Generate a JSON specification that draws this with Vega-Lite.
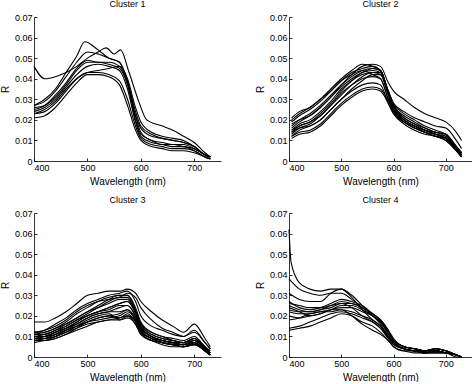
{
"$schema":"https://vega.github.io/schema/vega-lite/v6.json",
"background":"white",
"padding":{"left":0,"top":0,"right":0,"bottom":0},
"config":{
"view":{"stroke":null},
"font":"Liberation Sans",
"axis":{"grid":false,"domainColor":"black","tickColor":"black","labelColor":"black","titleColor":"black","labelFontSize":9,"titleFontSize":10,"titleFontWeight":"normal","tickSize":-3,"domainWidth":0.8,"tickWidth":0.8,"labelPadding":5},
"title":{"fontSize":9,"fontWeight":"normal","color":"black","offset":0},
"line":{"color":"black","strokeWidth":1.1,"interpolate":"monotone"}
},
"data":{"values":[
{"c":1,"s":1,"w":400,"r":0.046},{"c":1,"s":1,"w":420,"r":0.040},{"c":1,"s":1,"w":440,"r":0.041},{"c":1,"s":1,"w":460,"r":0.043},{"c":1,"s":1,"w":480,"r":0.046},{"c":1,"s":1,"w":500,"r":0.050},{"c":1,"s":1,"w":520,"r":0.053},{"c":1,"s":1,"w":535,"r":0.055},{"c":1,"s":1,"w":550,"r":0.052},{"c":1,"s":1,"w":562,"r":0.054},{"c":1,"s":1,"w":578,"r":0.043},{"c":1,"s":1,"w":596,"r":0.029},{"c":1,"s":1,"w":611,"r":0.020},{"c":1,"s":1,"w":640,"r":0.017},{"c":1,"s":1,"w":660,"r":0.015},{"c":1,"s":1,"w":680,"r":0.012},{"c":1,"s":1,"w":700,"r":0.009},{"c":1,"s":1,"w":720,"r":0.004},{"c":1,"s":1,"w":730,"r":0.002},
{"c":1,"s":2,"w":400,"r":0.027},{"c":1,"s":2,"w":420,"r":0.030},{"c":1,"s":2,"w":440,"r":0.035},{"c":1,"s":2,"w":460,"r":0.043},{"c":1,"s":2,"w":480,"r":0.051},{"c":1,"s":2,"w":495,"r":0.058},{"c":1,"s":2,"w":520,"r":0.054},{"c":1,"s":2,"w":540,"r":0.050},{"c":1,"s":2,"w":560,"r":0.048},{"c":1,"s":2,"w":575,"r":0.038},{"c":1,"s":2,"w":590,"r":0.022},{"c":1,"s":2,"w":600,"r":0.016},{"c":1,"s":2,"w":620,"r":0.012},{"c":1,"s":2,"w":640,"r":0.011},{"c":1,"s":2,"w":660,"r":0.010},{"c":1,"s":2,"w":680,"r":0.009},{"c":1,"s":2,"w":700,"r":0.007},{"c":1,"s":2,"w":720,"r":0.003},{"c":1,"s":2,"w":730,"r":0.002},
{"c":1,"s":3,"w":400,"r":0.027},{"c":1,"s":3,"w":420,"r":0.029},{"c":1,"s":3,"w":440,"r":0.034},{"c":1,"s":3,"w":460,"r":0.041},{"c":1,"s":3,"w":480,"r":0.048},{"c":1,"s":3,"w":500,"r":0.053},{"c":1,"s":3,"w":520,"r":0.052},{"c":1,"s":3,"w":540,"r":0.050},{"c":1,"s":3,"w":560,"r":0.048},{"c":1,"s":3,"w":575,"r":0.039},{"c":1,"s":3,"w":590,"r":0.024},{"c":1,"s":3,"w":600,"r":0.017},{"c":1,"s":3,"w":620,"r":0.013},{"c":1,"s":3,"w":640,"r":0.011},{"c":1,"s":3,"w":660,"r":0.010},{"c":1,"s":3,"w":680,"r":0.009},{"c":1,"s":3,"w":700,"r":0.007},{"c":1,"s":3,"w":720,"r":0.003},{"c":1,"s":3,"w":730,"r":0.002},
{"c":1,"s":4,"w":400,"r":0.025},{"c":1,"s":4,"w":420,"r":0.027},{"c":1,"s":4,"w":440,"r":0.032},{"c":1,"s":4,"w":460,"r":0.038},{"c":1,"s":4,"w":480,"r":0.045},{"c":1,"s":4,"w":500,"r":0.049},{"c":1,"s":4,"w":520,"r":0.048},{"c":1,"s":4,"w":540,"r":0.048},{"c":1,"s":4,"w":560,"r":0.046},{"c":1,"s":4,"w":575,"r":0.038},{"c":1,"s":4,"w":590,"r":0.022},{"c":1,"s":4,"w":600,"r":0.014},{"c":1,"s":4,"w":620,"r":0.010},{"c":1,"s":4,"w":640,"r":0.009},{"c":1,"s":4,"w":660,"r":0.008},{"c":1,"s":4,"w":680,"r":0.008},{"c":1,"s":4,"w":700,"r":0.006},{"c":1,"s":4,"w":720,"r":0.003},{"c":1,"s":4,"w":730,"r":0.002},
{"c":1,"s":5,"w":400,"r":0.026},{"c":1,"s":5,"w":420,"r":0.027},{"c":1,"s":5,"w":440,"r":0.031},{"c":1,"s":5,"w":460,"r":0.037},{"c":1,"s":5,"w":480,"r":0.044},{"c":1,"s":5,"w":500,"r":0.048},{"c":1,"s":5,"w":520,"r":0.048},{"c":1,"s":5,"w":540,"r":0.047},{"c":1,"s":5,"w":560,"r":0.045},{"c":1,"s":5,"w":575,"r":0.037},{"c":1,"s":5,"w":590,"r":0.020},{"c":1,"s":5,"w":600,"r":0.013},{"c":1,"s":5,"w":620,"r":0.010},{"c":1,"s":5,"w":640,"r":0.008},{"c":1,"s":5,"w":660,"r":0.008},{"c":1,"s":5,"w":680,"r":0.007},{"c":1,"s":5,"w":700,"r":0.006},{"c":1,"s":5,"w":720,"r":0.003},{"c":1,"s":5,"w":730,"r":0.001},
{"c":1,"s":6,"w":400,"r":0.024},{"c":1,"s":6,"w":420,"r":0.026},{"c":1,"s":6,"w":440,"r":0.030},{"c":1,"s":6,"w":460,"r":0.036},{"c":1,"s":6,"w":480,"r":0.042},{"c":1,"s":6,"w":500,"r":0.046},{"c":1,"s":6,"w":520,"r":0.047},{"c":1,"s":6,"w":540,"r":0.046},{"c":1,"s":6,"w":560,"r":0.044},{"c":1,"s":6,"w":575,"r":0.035},{"c":1,"s":6,"w":590,"r":0.019},{"c":1,"s":6,"w":600,"r":0.012},{"c":1,"s":6,"w":620,"r":0.009},{"c":1,"s":6,"w":640,"r":0.008},{"c":1,"s":6,"w":660,"r":0.007},{"c":1,"s":6,"w":680,"r":0.007},{"c":1,"s":6,"w":700,"r":0.005},{"c":1,"s":6,"w":720,"r":0.002},{"c":1,"s":6,"w":730,"r":0.001},
{"c":1,"s":7,"w":400,"r":0.023},{"c":1,"s":7,"w":420,"r":0.024},{"c":1,"s":7,"w":440,"r":0.028},{"c":1,"s":7,"w":460,"r":0.034},{"c":1,"s":7,"w":480,"r":0.040},{"c":1,"s":7,"w":500,"r":0.043},{"c":1,"s":7,"w":520,"r":0.043},{"c":1,"s":7,"w":540,"r":0.042},{"c":1,"s":7,"w":560,"r":0.039},{"c":1,"s":7,"w":575,"r":0.030},{"c":1,"s":7,"w":590,"r":0.017},{"c":1,"s":7,"w":600,"r":0.011},{"c":1,"s":7,"w":620,"r":0.008},{"c":1,"s":7,"w":640,"r":0.007},{"c":1,"s":7,"w":660,"r":0.006},{"c":1,"s":7,"w":680,"r":0.006},{"c":1,"s":7,"w":700,"r":0.005},{"c":1,"s":7,"w":720,"r":0.002},{"c":1,"s":7,"w":730,"r":0.001},
{"c":1,"s":8,"w":400,"r":0.021},{"c":1,"s":8,"w":420,"r":0.022},{"c":1,"s":8,"w":440,"r":0.026},{"c":1,"s":8,"w":460,"r":0.032},{"c":1,"s":8,"w":480,"r":0.038},{"c":1,"s":8,"w":500,"r":0.042},{"c":1,"s":8,"w":520,"r":0.042},{"c":1,"s":8,"w":540,"r":0.041},{"c":1,"s":8,"w":560,"r":0.037},{"c":1,"s":8,"w":575,"r":0.027},{"c":1,"s":8,"w":590,"r":0.015},{"c":1,"s":8,"w":600,"r":0.010},{"c":1,"s":8,"w":620,"r":0.007},{"c":1,"s":8,"w":640,"r":0.006},{"c":1,"s":8,"w":660,"r":0.005},{"c":1,"s":8,"w":680,"r":0.005},{"c":1,"s":8,"w":700,"r":0.004},{"c":1,"s":8,"w":720,"r":0.002},{"c":1,"s":8,"w":730,"r":0.001},
{"c":1,"s":9,"w":400,"r":0.023},{"c":1,"s":9,"w":420,"r":0.025},{"c":1,"s":9,"w":440,"r":0.029},{"c":1,"s":9,"w":460,"r":0.035},{"c":1,"s":9,"w":480,"r":0.040},{"c":1,"s":9,"w":500,"r":0.043},{"c":1,"s":9,"w":520,"r":0.044},{"c":1,"s":9,"w":540,"r":0.045},{"c":1,"s":9,"w":560,"r":0.046},{"c":1,"s":9,"w":575,"r":0.040},{"c":1,"s":9,"w":590,"r":0.026},{"c":1,"s":9,"w":600,"r":0.019},{"c":1,"s":9,"w":620,"r":0.014},{"c":1,"s":9,"w":640,"r":0.012},{"c":1,"s":9,"w":660,"r":0.011},{"c":1,"s":9,"w":680,"r":0.010},{"c":1,"s":9,"w":700,"r":0.007},{"c":1,"s":9,"w":720,"r":0.003},{"c":1,"s":9,"w":730,"r":0.002},

{"c":2,"s":1,"w":405,"r":0.018},{"c":2,"s":1,"w":420,"r":0.020},{"c":2,"s":1,"w":440,"r":0.022},{"c":2,"s":1,"w":460,"r":0.026},{"c":2,"s":1,"w":480,"r":0.031},{"c":2,"s":1,"w":500,"r":0.037},{"c":2,"s":1,"w":520,"r":0.042},{"c":2,"s":1,"w":540,"r":0.046},{"c":2,"s":1,"w":560,"r":0.047},{"c":2,"s":1,"w":575,"r":0.046},{"c":2,"s":1,"w":590,"r":0.038},{"c":2,"s":1,"w":600,"r":0.034},{"c":2,"s":1,"w":620,"r":0.030},{"c":2,"s":1,"w":640,"r":0.026},{"c":2,"s":1,"w":660,"r":0.023},{"c":2,"s":1,"w":680,"r":0.021},{"c":2,"s":1,"w":700,"r":0.019},{"c":2,"s":1,"w":720,"r":0.014},{"c":2,"s":1,"w":730,"r":0.010},
{"c":2,"s":2,"w":405,"r":0.020},{"c":2,"s":2,"w":420,"r":0.023},{"c":2,"s":2,"w":440,"r":0.026},{"c":2,"s":2,"w":460,"r":0.030},{"c":2,"s":2,"w":480,"r":0.035},{"c":2,"s":2,"w":500,"r":0.040},{"c":2,"s":2,"w":520,"r":0.044},{"c":2,"s":2,"w":540,"r":0.047},{"c":2,"s":2,"w":560,"r":0.046},{"c":2,"s":2,"w":575,"r":0.044},{"c":2,"s":2,"w":590,"r":0.034},{"c":2,"s":2,"w":600,"r":0.028},{"c":2,"s":2,"w":620,"r":0.023},{"c":2,"s":2,"w":640,"r":0.020},{"c":2,"s":2,"w":660,"r":0.017},{"c":2,"s":2,"w":680,"r":0.015},{"c":2,"s":2,"w":700,"r":0.013},{"c":2,"s":2,"w":720,"r":0.007},{"c":2,"s":2,"w":730,"r":0.004},
{"c":2,"s":3,"w":405,"r":0.019},{"c":2,"s":3,"w":420,"r":0.022},{"c":2,"s":3,"w":440,"r":0.025},{"c":2,"s":3,"w":460,"r":0.029},{"c":2,"s":3,"w":480,"r":0.034},{"c":2,"s":3,"w":500,"r":0.039},{"c":2,"s":3,"w":520,"r":0.043},{"c":2,"s":3,"w":540,"r":0.045},{"c":2,"s":3,"w":560,"r":0.046},{"c":2,"s":3,"w":575,"r":0.044},{"c":2,"s":3,"w":590,"r":0.033},{"c":2,"s":3,"w":600,"r":0.027},{"c":2,"s":3,"w":620,"r":0.022},{"c":2,"s":3,"w":640,"r":0.019},{"c":2,"s":3,"w":660,"r":0.016},{"c":2,"s":3,"w":680,"r":0.014},{"c":2,"s":3,"w":700,"r":0.012},{"c":2,"s":3,"w":720,"r":0.006},{"c":2,"s":3,"w":730,"r":0.003},
{"c":2,"s":4,"w":405,"r":0.017},{"c":2,"s":4,"w":420,"r":0.020},{"c":2,"s":4,"w":440,"r":0.023},{"c":2,"s":4,"w":460,"r":0.027},{"c":2,"s":4,"w":480,"r":0.032},{"c":2,"s":4,"w":500,"r":0.037},{"c":2,"s":4,"w":520,"r":0.041},{"c":2,"s":4,"w":540,"r":0.044},{"c":2,"s":4,"w":560,"r":0.045},{"c":2,"s":4,"w":575,"r":0.044},{"c":2,"s":4,"w":590,"r":0.034},{"c":2,"s":4,"w":600,"r":0.028},{"c":2,"s":4,"w":620,"r":0.024},{"c":2,"s":4,"w":640,"r":0.021},{"c":2,"s":4,"w":660,"r":0.019},{"c":2,"s":4,"w":680,"r":0.017},{"c":2,"s":4,"w":700,"r":0.016},{"c":2,"s":4,"w":720,"r":0.010},{"c":2,"s":4,"w":730,"r":0.006},
{"c":2,"s":5,"w":405,"r":0.016},{"c":2,"s":5,"w":420,"r":0.019},{"c":2,"s":5,"w":440,"r":0.022},{"c":2,"s":5,"w":460,"r":0.026},{"c":2,"s":5,"w":480,"r":0.031},{"c":2,"s":5,"w":500,"r":0.036},{"c":2,"s":5,"w":520,"r":0.040},{"c":2,"s":5,"w":540,"r":0.043},{"c":2,"s":5,"w":560,"r":0.045},{"c":2,"s":5,"w":575,"r":0.044},{"c":2,"s":5,"w":590,"r":0.033},{"c":2,"s":5,"w":600,"r":0.027},{"c":2,"s":5,"w":620,"r":0.021},{"c":2,"s":5,"w":640,"r":0.018},{"c":2,"s":5,"w":660,"r":0.015},{"c":2,"s":5,"w":680,"r":0.013},{"c":2,"s":5,"w":700,"r":0.011},{"c":2,"s":5,"w":720,"r":0.006},{"c":2,"s":5,"w":730,"r":0.003},
{"c":2,"s":6,"w":405,"r":0.015},{"c":2,"s":6,"w":420,"r":0.018},{"c":2,"s":6,"w":440,"r":0.020},{"c":2,"s":6,"w":460,"r":0.024},{"c":2,"s":6,"w":480,"r":0.029},{"c":2,"s":6,"w":500,"r":0.035},{"c":2,"s":6,"w":520,"r":0.039},{"c":2,"s":6,"w":540,"r":0.043},{"c":2,"s":6,"w":560,"r":0.044},{"c":2,"s":6,"w":575,"r":0.043},{"c":2,"s":6,"w":590,"r":0.033},{"c":2,"s":6,"w":600,"r":0.026},{"c":2,"s":6,"w":620,"r":0.020},{"c":2,"s":6,"w":640,"r":0.017},{"c":2,"s":6,"w":660,"r":0.015},{"c":2,"s":6,"w":680,"r":0.013},{"c":2,"s":6,"w":700,"r":0.011},{"c":2,"s":6,"w":720,"r":0.005},{"c":2,"s":6,"w":730,"r":0.003},
{"c":2,"s":7,"w":405,"r":0.014},{"c":2,"s":7,"w":420,"r":0.017},{"c":2,"s":7,"w":440,"r":0.019},{"c":2,"s":7,"w":460,"r":0.023},{"c":2,"s":7,"w":480,"r":0.028},{"c":2,"s":7,"w":500,"r":0.034},{"c":2,"s":7,"w":520,"r":0.039},{"c":2,"s":7,"w":540,"r":0.042},{"c":2,"s":7,"w":560,"r":0.043},{"c":2,"s":7,"w":575,"r":0.042},{"c":2,"s":7,"w":590,"r":0.032},{"c":2,"s":7,"w":600,"r":0.025},{"c":2,"s":7,"w":620,"r":0.020},{"c":2,"s":7,"w":640,"r":0.017},{"c":2,"s":7,"w":660,"r":0.014},{"c":2,"s":7,"w":680,"r":0.012},{"c":2,"s":7,"w":700,"r":0.010},{"c":2,"s":7,"w":720,"r":0.005},{"c":2,"s":7,"w":730,"r":0.002},
{"c":2,"s":8,"w":405,"r":0.015},{"c":2,"s":8,"w":420,"r":0.017},{"c":2,"s":8,"w":440,"r":0.019},{"c":2,"s":8,"w":460,"r":0.022},{"c":2,"s":8,"w":480,"r":0.027},{"c":2,"s":8,"w":500,"r":0.032},{"c":2,"s":8,"w":520,"r":0.037},{"c":2,"s":8,"w":540,"r":0.041},{"c":2,"s":8,"w":560,"r":0.043},{"c":2,"s":8,"w":575,"r":0.043},{"c":2,"s":8,"w":590,"r":0.032},{"c":2,"s":8,"w":600,"r":0.025},{"c":2,"s":8,"w":620,"r":0.019},{"c":2,"s":8,"w":640,"r":0.016},{"c":2,"s":8,"w":660,"r":0.014},{"c":2,"s":8,"w":680,"r":0.012},{"c":2,"s":8,"w":700,"r":0.011},{"c":2,"s":8,"w":720,"r":0.006},{"c":2,"s":8,"w":730,"r":0.003},
{"c":2,"s":9,"w":405,"r":0.013},{"c":2,"s":9,"w":420,"r":0.016},{"c":2,"s":9,"w":440,"r":0.018},{"c":2,"s":9,"w":460,"r":0.022},{"c":2,"s":9,"w":480,"r":0.027},{"c":2,"s":9,"w":500,"r":0.033},{"c":2,"s":9,"w":520,"r":0.037},{"c":2,"s":9,"w":540,"r":0.040},{"c":2,"s":9,"w":560,"r":0.041},{"c":2,"s":9,"w":575,"r":0.040},{"c":2,"s":9,"w":590,"r":0.030},{"c":2,"s":9,"w":600,"r":0.024},{"c":2,"s":9,"w":620,"r":0.019},{"c":2,"s":9,"w":640,"r":0.016},{"c":2,"s":9,"w":660,"r":0.014},{"c":2,"s":9,"w":680,"r":0.012},{"c":2,"s":9,"w":700,"r":0.011},{"c":2,"s":9,"w":720,"r":0.005},{"c":2,"s":9,"w":730,"r":0.002},
{"c":2,"s":10,"w":405,"r":0.014},{"c":2,"s":10,"w":420,"r":0.016},{"c":2,"s":10,"w":440,"r":0.017},{"c":2,"s":10,"w":460,"r":0.020},{"c":2,"s":10,"w":480,"r":0.025},{"c":2,"s":10,"w":500,"r":0.030},{"c":2,"s":10,"w":520,"r":0.035},{"c":2,"s":10,"w":540,"r":0.039},{"c":2,"s":10,"w":560,"r":0.042},{"c":2,"s":10,"w":575,"r":0.042},{"c":2,"s":10,"w":590,"r":0.033},{"c":2,"s":10,"w":600,"r":0.026},{"c":2,"s":10,"w":620,"r":0.021},{"c":2,"s":10,"w":640,"r":0.018},{"c":2,"s":10,"w":660,"r":0.016},{"c":2,"s":10,"w":680,"r":0.014},{"c":2,"s":10,"w":700,"r":0.013},{"c":2,"s":10,"w":720,"r":0.007},{"c":2,"s":10,"w":730,"r":0.004},
{"c":2,"s":11,"w":405,"r":0.012},{"c":2,"s":11,"w":420,"r":0.015},{"c":2,"s":11,"w":440,"r":0.017},{"c":2,"s":11,"w":460,"r":0.020},{"c":2,"s":11,"w":480,"r":0.025},{"c":2,"s":11,"w":500,"r":0.030},{"c":2,"s":11,"w":520,"r":0.034},{"c":2,"s":11,"w":540,"r":0.037},{"c":2,"s":11,"w":560,"r":0.038},{"c":2,"s":11,"w":575,"r":0.037},{"c":2,"s":11,"w":590,"r":0.028},{"c":2,"s":11,"w":600,"r":0.023},{"c":2,"s":11,"w":620,"r":0.018},{"c":2,"s":11,"w":640,"r":0.015},{"c":2,"s":11,"w":660,"r":0.013},{"c":2,"s":11,"w":680,"r":0.012},{"c":2,"s":11,"w":700,"r":0.010},{"c":2,"s":11,"w":720,"r":0.005},{"c":2,"s":11,"w":730,"r":0.002},
{"c":2,"s":12,"w":405,"r":0.012},{"c":2,"s":12,"w":420,"r":0.014},{"c":2,"s":12,"w":440,"r":0.015},{"c":2,"s":12,"w":460,"r":0.018},{"c":2,"s":12,"w":480,"r":0.023},{"c":2,"s":12,"w":500,"r":0.028},{"c":2,"s":12,"w":520,"r":0.032},{"c":2,"s":12,"w":540,"r":0.035},{"c":2,"s":12,"w":560,"r":0.036},{"c":2,"s":12,"w":575,"r":0.035},{"c":2,"s":12,"w":590,"r":0.029},{"c":2,"s":12,"w":600,"r":0.024},{"c":2,"s":12,"w":620,"r":0.020},{"c":2,"s":12,"w":640,"r":0.017},{"c":2,"s":12,"w":660,"r":0.015},{"c":2,"s":12,"w":680,"r":0.014},{"c":2,"s":12,"w":700,"r":0.013},{"c":2,"s":12,"w":720,"r":0.007},{"c":2,"s":12,"w":730,"r":0.004},
{"c":2,"s":13,"w":405,"r":0.011},{"c":2,"s":13,"w":420,"r":0.013},{"c":2,"s":13,"w":440,"r":0.014},{"c":2,"s":13,"w":460,"r":0.017},{"c":2,"s":13,"w":480,"r":0.022},{"c":2,"s":13,"w":500,"r":0.027},{"c":2,"s":13,"w":520,"r":0.031},{"c":2,"s":13,"w":540,"r":0.034},{"c":2,"s":13,"w":560,"r":0.035},{"c":2,"s":13,"w":575,"r":0.034},{"c":2,"s":13,"w":590,"r":0.028},{"c":2,"s":13,"w":600,"r":0.023},{"c":2,"s":13,"w":620,"r":0.019},{"c":2,"s":13,"w":640,"r":0.016},{"c":2,"s":13,"w":660,"r":0.014},{"c":2,"s":13,"w":680,"r":0.013},{"c":2,"s":13,"w":700,"r":0.012},{"c":2,"s":13,"w":720,"r":0.006},{"c":2,"s":13,"w":730,"r":0.003},
{"c":2,"s":14,"w":405,"r":0.021},{"c":2,"s":14,"w":420,"r":0.024},{"c":2,"s":14,"w":440,"r":0.026},{"c":2,"s":14,"w":460,"r":0.030},{"c":2,"s":14,"w":480,"r":0.034},{"c":2,"s":14,"w":500,"r":0.039},{"c":2,"s":14,"w":520,"r":0.042},{"c":2,"s":14,"w":540,"r":0.044},{"c":2,"s":14,"w":560,"r":0.042},{"c":2,"s":14,"w":575,"r":0.040},{"c":2,"s":14,"w":590,"r":0.030},{"c":2,"s":14,"w":600,"r":0.024},{"c":2,"s":14,"w":620,"r":0.019},{"c":2,"s":14,"w":640,"r":0.017},{"c":2,"s":14,"w":660,"r":0.015},{"c":2,"s":14,"w":680,"r":0.013},{"c":2,"s":14,"w":700,"r":0.011},{"c":2,"s":14,"w":720,"r":0.005},{"c":2,"s":14,"w":730,"r":0.002},

{"c":3,"s":1,"w":400,"r":0.017},{"c":3,"s":1,"w":420,"r":0.017},{"c":3,"s":1,"w":440,"r":0.019},{"c":3,"s":1,"w":460,"r":0.022},{"c":3,"s":1,"w":480,"r":0.026},{"c":3,"s":1,"w":500,"r":0.030},{"c":3,"s":1,"w":520,"r":0.031},{"c":3,"s":1,"w":540,"r":0.032},{"c":3,"s":1,"w":560,"r":0.032},{"c":3,"s":1,"w":575,"r":0.033},{"c":3,"s":1,"w":590,"r":0.031},{"c":3,"s":1,"w":600,"r":0.027},{"c":3,"s":1,"w":620,"r":0.022},{"c":3,"s":1,"w":640,"r":0.018},{"c":3,"s":1,"w":660,"r":0.015},{"c":3,"s":1,"w":680,"r":0.012},{"c":3,"s":1,"w":700,"r":0.016},{"c":3,"s":1,"w":720,"r":0.009},{"c":3,"s":1,"w":730,"r":0.005},
{"c":3,"s":2,"w":400,"r":0.012},{"c":3,"s":2,"w":420,"r":0.013},{"c":3,"s":2,"w":440,"r":0.016},{"c":3,"s":2,"w":460,"r":0.019},{"c":3,"s":2,"w":480,"r":0.023},{"c":3,"s":2,"w":500,"r":0.026},{"c":3,"s":2,"w":520,"r":0.028},{"c":3,"s":2,"w":540,"r":0.030},{"c":3,"s":2,"w":560,"r":0.031},{"c":3,"s":2,"w":575,"r":0.032},{"c":3,"s":2,"w":590,"r":0.027},{"c":3,"s":2,"w":600,"r":0.020},{"c":3,"s":2,"w":620,"r":0.015},{"c":3,"s":2,"w":640,"r":0.013},{"c":3,"s":2,"w":660,"r":0.011},{"c":3,"s":2,"w":680,"r":0.010},{"c":3,"s":2,"w":700,"r":0.013},{"c":3,"s":2,"w":720,"r":0.007},{"c":3,"s":2,"w":730,"r":0.004},
{"c":3,"s":3,"w":400,"r":0.011},{"c":3,"s":3,"w":420,"r":0.012},{"c":3,"s":3,"w":440,"r":0.014},{"c":3,"s":3,"w":460,"r":0.017},{"c":3,"s":3,"w":480,"r":0.021},{"c":3,"s":3,"w":500,"r":0.024},{"c":3,"s":3,"w":520,"r":0.027},{"c":3,"s":3,"w":540,"r":0.029},{"c":3,"s":3,"w":560,"r":0.030},{"c":3,"s":3,"w":575,"r":0.030},{"c":3,"s":3,"w":590,"r":0.024},{"c":3,"s":3,"w":600,"r":0.017},{"c":3,"s":3,"w":620,"r":0.012},{"c":3,"s":3,"w":640,"r":0.010},{"c":3,"s":3,"w":660,"r":0.009},{"c":3,"s":3,"w":680,"r":0.008},{"c":3,"s":3,"w":700,"r":0.010},{"c":3,"s":3,"w":720,"r":0.005},{"c":3,"s":3,"w":730,"r":0.003},
{"c":3,"s":4,"w":400,"r":0.010},{"c":3,"s":4,"w":420,"r":0.011},{"c":3,"s":4,"w":440,"r":0.013},{"c":3,"s":4,"w":460,"r":0.016},{"c":3,"s":4,"w":480,"r":0.019},{"c":3,"s":4,"w":500,"r":0.022},{"c":3,"s":4,"w":520,"r":0.025},{"c":3,"s":4,"w":540,"r":0.028},{"c":3,"s":4,"w":560,"r":0.030},{"c":3,"s":4,"w":575,"r":0.030},{"c":3,"s":4,"w":590,"r":0.023},{"c":3,"s":4,"w":600,"r":0.016},{"c":3,"s":4,"w":620,"r":0.011},{"c":3,"s":4,"w":640,"r":0.009},{"c":3,"s":4,"w":660,"r":0.008},{"c":3,"s":4,"w":680,"r":0.007},{"c":3,"s":4,"w":700,"r":0.009},{"c":3,"s":4,"w":720,"r":0.004},{"c":3,"s":4,"w":730,"r":0.002},
{"c":3,"s":5,"w":400,"r":0.012},{"c":3,"s":5,"w":420,"r":0.012},{"c":3,"s":5,"w":440,"r":0.014},{"c":3,"s":5,"w":460,"r":0.016},{"c":3,"s":5,"w":480,"r":0.019},{"c":3,"s":5,"w":500,"r":0.022},{"c":3,"s":5,"w":520,"r":0.024},{"c":3,"s":5,"w":540,"r":0.026},{"c":3,"s":5,"w":560,"r":0.028},{"c":3,"s":5,"w":575,"r":0.028},{"c":3,"s":5,"w":590,"r":0.022},{"c":3,"s":5,"w":600,"r":0.015},{"c":3,"s":5,"w":620,"r":0.011},{"c":3,"s":5,"w":640,"r":0.009},{"c":3,"s":5,"w":660,"r":0.008},{"c":3,"s":5,"w":680,"r":0.007},{"c":3,"s":5,"w":700,"r":0.009},{"c":3,"s":5,"w":720,"r":0.004},{"c":3,"s":5,"w":730,"r":0.002},
{"c":3,"s":6,"w":400,"r":0.009},{"c":3,"s":6,"w":420,"r":0.010},{"c":3,"s":6,"w":440,"r":0.012},{"c":3,"s":6,"w":460,"r":0.015},{"c":3,"s":6,"w":480,"r":0.018},{"c":3,"s":6,"w":500,"r":0.021},{"c":3,"s":6,"w":520,"r":0.024},{"c":3,"s":6,"w":540,"r":0.027},{"c":3,"s":6,"w":560,"r":0.029},{"c":3,"s":6,"w":575,"r":0.029},{"c":3,"s":6,"w":590,"r":0.022},{"c":3,"s":6,"w":600,"r":0.015},{"c":3,"s":6,"w":620,"r":0.010},{"c":3,"s":6,"w":640,"r":0.008},{"c":3,"s":6,"w":660,"r":0.007},{"c":3,"s":6,"w":680,"r":0.007},{"c":3,"s":6,"w":700,"r":0.008},{"c":3,"s":6,"w":720,"r":0.004},{"c":3,"s":6,"w":730,"r":0.002},
{"c":3,"s":7,"w":400,"r":0.011},{"c":3,"s":7,"w":420,"r":0.011},{"c":3,"s":7,"w":440,"r":0.013},{"c":3,"s":7,"w":460,"r":0.015},{"c":3,"s":7,"w":480,"r":0.018},{"c":3,"s":7,"w":500,"r":0.020},{"c":3,"s":7,"w":520,"r":0.022},{"c":3,"s":7,"w":540,"r":0.024},{"c":3,"s":7,"w":560,"r":0.026},{"c":3,"s":7,"w":575,"r":0.027},{"c":3,"s":7,"w":590,"r":0.021},{"c":3,"s":7,"w":600,"r":0.014},{"c":3,"s":7,"w":620,"r":0.010},{"c":3,"s":7,"w":640,"r":0.008},{"c":3,"s":7,"w":660,"r":0.007},{"c":3,"s":7,"w":680,"r":0.006},{"c":3,"s":7,"w":700,"r":0.008},{"c":3,"s":7,"w":720,"r":0.004},{"c":3,"s":7,"w":730,"r":0.002},
{"c":3,"s":8,"w":400,"r":0.009},{"c":3,"s":8,"w":420,"r":0.010},{"c":3,"s":8,"w":440,"r":0.012},{"c":3,"s":8,"w":460,"r":0.014},{"c":3,"s":8,"w":480,"r":0.017},{"c":3,"s":8,"w":500,"r":0.020},{"c":3,"s":8,"w":520,"r":0.022},{"c":3,"s":8,"w":540,"r":0.024},{"c":3,"s":8,"w":560,"r":0.026},{"c":3,"s":8,"w":575,"r":0.027},{"c":3,"s":8,"w":590,"r":0.022},{"c":3,"s":8,"w":600,"r":0.016},{"c":3,"s":8,"w":620,"r":0.012},{"c":3,"s":8,"w":640,"r":0.010},{"c":3,"s":8,"w":660,"r":0.008},{"c":3,"s":8,"w":680,"r":0.007},{"c":3,"s":8,"w":700,"r":0.009},{"c":3,"s":8,"w":720,"r":0.005},{"c":3,"s":8,"w":730,"r":0.002},
{"c":3,"s":9,"w":400,"r":0.008},{"c":3,"s":9,"w":420,"r":0.009},{"c":3,"s":9,"w":440,"r":0.011},{"c":3,"s":9,"w":460,"r":0.014},{"c":3,"s":9,"w":480,"r":0.017},{"c":3,"s":9,"w":500,"r":0.020},{"c":3,"s":9,"w":520,"r":0.022},{"c":3,"s":9,"w":540,"r":0.023},{"c":3,"s":9,"w":560,"r":0.025},{"c":3,"s":9,"w":575,"r":0.025},{"c":3,"s":9,"w":590,"r":0.020},{"c":3,"s":9,"w":600,"r":0.014},{"c":3,"s":9,"w":620,"r":0.010},{"c":3,"s":9,"w":640,"r":0.008},{"c":3,"s":9,"w":660,"r":0.007},{"c":3,"s":9,"w":680,"r":0.006},{"c":3,"s":9,"w":700,"r":0.008},{"c":3,"s":9,"w":720,"r":0.004},{"c":3,"s":9,"w":730,"r":0.002},
{"c":3,"s":10,"w":400,"r":0.010},{"c":3,"s":10,"w":420,"r":0.010},{"c":3,"s":10,"w":440,"r":0.012},{"c":3,"s":10,"w":460,"r":0.014},{"c":3,"s":10,"w":480,"r":0.016},{"c":3,"s":10,"w":500,"r":0.019},{"c":3,"s":10,"w":520,"r":0.021},{"c":3,"s":10,"w":540,"r":0.022},{"c":3,"s":10,"w":560,"r":0.024},{"c":3,"s":10,"w":575,"r":0.025},{"c":3,"s":10,"w":590,"r":0.020},{"c":3,"s":10,"w":600,"r":0.014},{"c":3,"s":10,"w":620,"r":0.010},{"c":3,"s":10,"w":640,"r":0.008},{"c":3,"s":10,"w":660,"r":0.007},{"c":3,"s":10,"w":680,"r":0.006},{"c":3,"s":10,"w":700,"r":0.007},{"c":3,"s":10,"w":720,"r":0.003},{"c":3,"s":10,"w":730,"r":0.002},
{"c":3,"s":11,"w":400,"r":0.008},{"c":3,"s":11,"w":420,"r":0.009},{"c":3,"s":11,"w":440,"r":0.010},{"c":3,"s":11,"w":460,"r":0.013},{"c":3,"s":11,"w":480,"r":0.016},{"c":3,"s":11,"w":500,"r":0.019},{"c":3,"s":11,"w":520,"r":0.021},{"c":3,"s":11,"w":540,"r":0.022},{"c":3,"s":11,"w":560,"r":0.022},{"c":3,"s":11,"w":575,"r":0.023},{"c":3,"s":11,"w":590,"r":0.018},{"c":3,"s":11,"w":600,"r":0.013},{"c":3,"s":11,"w":620,"r":0.009},{"c":3,"s":11,"w":640,"r":0.008},{"c":3,"s":11,"w":660,"r":0.007},{"c":3,"s":11,"w":680,"r":0.006},{"c":3,"s":11,"w":700,"r":0.007},{"c":3,"s":11,"w":720,"r":0.003},{"c":3,"s":11,"w":730,"r":0.001},
{"c":3,"s":12,"w":400,"r":0.009},{"c":3,"s":12,"w":420,"r":0.009},{"c":3,"s":12,"w":440,"r":0.011},{"c":3,"s":12,"w":460,"r":0.013},{"c":3,"s":12,"w":480,"r":0.015},{"c":3,"s":12,"w":500,"r":0.017},{"c":3,"s":12,"w":520,"r":0.019},{"c":3,"s":12,"w":540,"r":0.020},{"c":3,"s":12,"w":560,"r":0.021},{"c":3,"s":12,"w":575,"r":0.023},{"c":3,"s":12,"w":590,"r":0.019},{"c":3,"s":12,"w":600,"r":0.013},{"c":3,"s":12,"w":620,"r":0.009},{"c":3,"s":12,"w":640,"r":0.007},{"c":3,"s":12,"w":660,"r":0.006},{"c":3,"s":12,"w":680,"r":0.006},{"c":3,"s":12,"w":700,"r":0.007},{"c":3,"s":12,"w":720,"r":0.003},{"c":3,"s":12,"w":730,"r":0.001},
{"c":3,"s":13,"w":400,"r":0.008},{"c":3,"s":13,"w":420,"r":0.008},{"c":3,"s":13,"w":440,"r":0.010},{"c":3,"s":13,"w":460,"r":0.012},{"c":3,"s":13,"w":480,"r":0.015},{"c":3,"s":13,"w":500,"r":0.018},{"c":3,"s":13,"w":520,"r":0.020},{"c":3,"s":13,"w":540,"r":0.021},{"c":3,"s":13,"w":560,"r":0.018},{"c":3,"s":13,"w":575,"r":0.020},{"c":3,"s":13,"w":590,"r":0.018},{"c":3,"s":13,"w":600,"r":0.013},{"c":3,"s":13,"w":620,"r":0.009},{"c":3,"s":13,"w":640,"r":0.007},{"c":3,"s":13,"w":660,"r":0.006},{"c":3,"s":13,"w":680,"r":0.005},{"c":3,"s":13,"w":700,"r":0.007},{"c":3,"s":13,"w":720,"r":0.003},{"c":3,"s":13,"w":730,"r":0.001},
{"c":3,"s":14,"w":400,"r":0.010},{"c":3,"s":14,"w":420,"r":0.010},{"c":3,"s":14,"w":440,"r":0.011},{"c":3,"s":14,"w":460,"r":0.013},{"c":3,"s":14,"w":480,"r":0.015},{"c":3,"s":14,"w":500,"r":0.017},{"c":3,"s":14,"w":520,"r":0.018},{"c":3,"s":14,"w":540,"r":0.019},{"c":3,"s":14,"w":560,"r":0.020},{"c":3,"s":14,"w":575,"r":0.022},{"c":3,"s":14,"w":590,"r":0.018},{"c":3,"s":14,"w":600,"r":0.012},{"c":3,"s":14,"w":620,"r":0.009},{"c":3,"s":14,"w":640,"r":0.007},{"c":3,"s":14,"w":660,"r":0.006},{"c":3,"s":14,"w":680,"r":0.005},{"c":3,"s":14,"w":700,"r":0.007},{"c":3,"s":14,"w":720,"r":0.003},{"c":3,"s":14,"w":730,"r":0.001},
{"c":3,"s":15,"w":400,"r":0.008},{"c":3,"s":15,"w":420,"r":0.008},{"c":3,"s":15,"w":440,"r":0.009},{"c":3,"s":15,"w":460,"r":0.011},{"c":3,"s":15,"w":480,"r":0.014},{"c":3,"s":15,"w":500,"r":0.017},{"c":3,"s":15,"w":520,"r":0.019},{"c":3,"s":15,"w":540,"r":0.020},{"c":3,"s":15,"w":560,"r":0.019},{"c":3,"s":15,"w":575,"r":0.021},{"c":3,"s":15,"w":590,"r":0.017},{"c":3,"s":15,"w":600,"r":0.012},{"c":3,"s":15,"w":620,"r":0.008},{"c":3,"s":15,"w":640,"r":0.007},{"c":3,"s":15,"w":660,"r":0.006},{"c":3,"s":15,"w":680,"r":0.005},{"c":3,"s":15,"w":700,"r":0.006},{"c":3,"s":15,"w":720,"r":0.003},{"c":3,"s":15,"w":730,"r":0.001},
{"c":3,"s":16,"w":400,"r":0.009},{"c":3,"s":16,"w":420,"r":0.009},{"c":3,"s":16,"w":440,"r":0.010},{"c":3,"s":16,"w":460,"r":0.012},{"c":3,"s":16,"w":480,"r":0.014},{"c":3,"s":16,"w":500,"r":0.016},{"c":3,"s":16,"w":520,"r":0.017},{"c":3,"s":16,"w":540,"r":0.018},{"c":3,"s":16,"w":560,"r":0.019},{"c":3,"s":16,"w":575,"r":0.020},{"c":3,"s":16,"w":590,"r":0.016},{"c":3,"s":16,"w":600,"r":0.011},{"c":3,"s":16,"w":620,"r":0.008},{"c":3,"s":16,"w":640,"r":0.007},{"c":3,"s":16,"w":660,"r":0.006},{"c":3,"s":16,"w":680,"r":0.005},{"c":3,"s":16,"w":700,"r":0.006},{"c":3,"s":16,"w":720,"r":0.003},{"c":3,"s":16,"w":730,"r":0.001},
{"c":3,"s":17,"w":400,"r":0.012},{"c":3,"s":17,"w":420,"r":0.013},{"c":3,"s":17,"w":440,"r":0.015},{"c":3,"s":17,"w":460,"r":0.018},{"c":3,"s":17,"w":480,"r":0.022},{"c":3,"s":17,"w":500,"r":0.025},{"c":3,"s":17,"w":520,"r":0.027},{"c":3,"s":17,"w":540,"r":0.028},{"c":3,"s":17,"w":560,"r":0.029},{"c":3,"s":17,"w":575,"r":0.031},{"c":3,"s":17,"w":590,"r":0.029},{"c":3,"s":17,"w":600,"r":0.024},{"c":3,"s":17,"w":620,"r":0.018},{"c":3,"s":17,"w":640,"r":0.014},{"c":3,"s":17,"w":660,"r":0.012},{"c":3,"s":17,"w":680,"r":0.010},{"c":3,"s":17,"w":700,"r":0.012},{"c":3,"s":17,"w":720,"r":0.007},{"c":3,"s":17,"w":730,"r":0.004},
{"c":3,"s":18,"w":400,"r":0.007},{"c":3,"s":18,"w":420,"r":0.008},{"c":3,"s":18,"w":440,"r":0.009},{"c":3,"s":18,"w":460,"r":0.011},{"c":3,"s":18,"w":480,"r":0.013},{"c":3,"s":18,"w":500,"r":0.015},{"c":3,"s":18,"w":520,"r":0.017},{"c":3,"s":18,"w":540,"r":0.018},{"c":3,"s":18,"w":560,"r":0.018},{"c":3,"s":18,"w":575,"r":0.019},{"c":3,"s":18,"w":590,"r":0.016},{"c":3,"s":18,"w":600,"r":0.011},{"c":3,"s":18,"w":620,"r":0.008},{"c":3,"s":18,"w":640,"r":0.006},{"c":3,"s":18,"w":660,"r":0.005},{"c":3,"s":18,"w":680,"r":0.005},{"c":3,"s":18,"w":700,"r":0.006},{"c":3,"s":18,"w":720,"r":0.003},{"c":3,"s":18,"w":730,"r":0.001},

{"c":4,"s":1,"w":400,"r":0.062},{"c":4,"s":1,"w":404,"r":0.046},{"c":4,"s":1,"w":420,"r":0.036},{"c":4,"s":1,"w":440,"r":0.033},{"c":4,"s":1,"w":460,"r":0.032},{"c":4,"s":1,"w":480,"r":0.033},{"c":4,"s":1,"w":500,"r":0.033},{"c":4,"s":1,"w":520,"r":0.030},{"c":4,"s":1,"w":540,"r":0.025},{"c":4,"s":1,"w":560,"r":0.020},{"c":4,"s":1,"w":575,"r":0.016},{"c":4,"s":1,"w":590,"r":0.010},{"c":4,"s":1,"w":600,"r":0.007},{"c":4,"s":1,"w":620,"r":0.004},{"c":4,"s":1,"w":640,"r":0.003},{"c":4,"s":1,"w":660,"r":0.003},{"c":4,"s":1,"w":680,"r":0.004},{"c":4,"s":1,"w":700,"r":0.003},{"c":4,"s":1,"w":720,"r":0.001},{"c":4,"s":1,"w":730,"r":0},
{"c":4,"s":2,"w":400,"r":0.038},{"c":4,"s":2,"w":420,"r":0.033},{"c":4,"s":2,"w":440,"r":0.031},{"c":4,"s":2,"w":460,"r":0.030},{"c":4,"s":2,"w":480,"r":0.031},{"c":4,"s":2,"w":500,"r":0.031},{"c":4,"s":2,"w":520,"r":0.028},{"c":4,"s":2,"w":540,"r":0.024},{"c":4,"s":2,"w":560,"r":0.020},{"c":4,"s":2,"w":575,"r":0.017},{"c":4,"s":2,"w":590,"r":0.012},{"c":4,"s":2,"w":600,"r":0.008},{"c":4,"s":2,"w":620,"r":0.005},{"c":4,"s":2,"w":640,"r":0.004},{"c":4,"s":2,"w":660,"r":0.003},{"c":4,"s":2,"w":680,"r":0.004},{"c":4,"s":2,"w":700,"r":0.003},{"c":4,"s":2,"w":720,"r":0.001},{"c":4,"s":2,"w":730,"r":0},
{"c":4,"s":3,"w":400,"r":0.031},{"c":4,"s":3,"w":420,"r":0.028},{"c":4,"s":3,"w":440,"r":0.027},{"c":4,"s":3,"w":460,"r":0.027},{"c":4,"s":3,"w":480,"r":0.031},{"c":4,"s":3,"w":500,"r":0.033},{"c":4,"s":3,"w":520,"r":0.029},{"c":4,"s":3,"w":540,"r":0.023},{"c":4,"s":3,"w":560,"r":0.018},{"c":4,"s":3,"w":575,"r":0.015},{"c":4,"s":3,"w":590,"r":0.010},{"c":4,"s":3,"w":600,"r":0.007},{"c":4,"s":3,"w":620,"r":0.004},{"c":4,"s":3,"w":640,"r":0.003},{"c":4,"s":3,"w":660,"r":0.003},{"c":4,"s":3,"w":680,"r":0.003},{"c":4,"s":3,"w":700,"r":0.002},{"c":4,"s":3,"w":720,"r":0.001},{"c":4,"s":3,"w":730,"r":0},
{"c":4,"s":4,"w":400,"r":0.027},{"c":4,"s":4,"w":420,"r":0.024},{"c":4,"s":4,"w":440,"r":0.023},{"c":4,"s":4,"w":460,"r":0.024},{"c":4,"s":4,"w":480,"r":0.026},{"c":4,"s":4,"w":500,"r":0.028},{"c":4,"s":4,"w":520,"r":0.027},{"c":4,"s":4,"w":540,"r":0.025},{"c":4,"s":4,"w":560,"r":0.021},{"c":4,"s":4,"w":575,"r":0.018},{"c":4,"s":4,"w":590,"r":0.012},{"c":4,"s":4,"w":600,"r":0.008},{"c":4,"s":4,"w":620,"r":0.005},{"c":4,"s":4,"w":640,"r":0.004},{"c":4,"s":4,"w":660,"r":0.003},{"c":4,"s":4,"w":680,"r":0.004},{"c":4,"s":4,"w":700,"r":0.003},{"c":4,"s":4,"w":720,"r":0.001},{"c":4,"s":4,"w":730,"r":0},
{"c":4,"s":5,"w":400,"r":0.025},{"c":4,"s":5,"w":420,"r":0.023},{"c":4,"s":5,"w":440,"r":0.022},{"c":4,"s":5,"w":460,"r":0.023},{"c":4,"s":5,"w":480,"r":0.025},{"c":4,"s":5,"w":500,"r":0.027},{"c":4,"s":5,"w":520,"r":0.026},{"c":4,"s":5,"w":540,"r":0.024},{"c":4,"s":5,"w":560,"r":0.021},{"c":4,"s":5,"w":575,"r":0.018},{"c":4,"s":5,"w":590,"r":0.013},{"c":4,"s":5,"w":600,"r":0.008},{"c":4,"s":5,"w":620,"r":0.005},{"c":4,"s":5,"w":640,"r":0.004},{"c":4,"s":5,"w":660,"r":0.003},{"c":4,"s":5,"w":680,"r":0.004},{"c":4,"s":5,"w":700,"r":0.003},{"c":4,"s":5,"w":720,"r":0.001},{"c":4,"s":5,"w":730,"r":0},
{"c":4,"s":6,"w":400,"r":0.023},{"c":4,"s":6,"w":420,"r":0.022},{"c":4,"s":6,"w":440,"r":0.022},{"c":4,"s":6,"w":460,"r":0.023},{"c":4,"s":6,"w":480,"r":0.024},{"c":4,"s":6,"w":500,"r":0.026},{"c":4,"s":6,"w":520,"r":0.026},{"c":4,"s":6,"w":540,"r":0.024},{"c":4,"s":6,"w":560,"r":0.021},{"c":4,"s":6,"w":575,"r":0.018},{"c":4,"s":6,"w":590,"r":0.013},{"c":4,"s":6,"w":600,"r":0.009},{"c":4,"s":6,"w":620,"r":0.005},{"c":4,"s":6,"w":640,"r":0.004},{"c":4,"s":6,"w":660,"r":0.003},{"c":4,"s":6,"w":680,"r":0.004},{"c":4,"s":6,"w":700,"r":0.003},{"c":4,"s":6,"w":720,"r":0.001},{"c":4,"s":6,"w":730,"r":0},
{"c":4,"s":7,"w":400,"r":0.022},{"c":4,"s":7,"w":420,"r":0.021},{"c":4,"s":7,"w":440,"r":0.021},{"c":4,"s":7,"w":460,"r":0.022},{"c":4,"s":7,"w":480,"r":0.023},{"c":4,"s":7,"w":500,"r":0.025},{"c":4,"s":7,"w":520,"r":0.025},{"c":4,"s":7,"w":540,"r":0.023},{"c":4,"s":7,"w":560,"r":0.020},{"c":4,"s":7,"w":575,"r":0.017},{"c":4,"s":7,"w":590,"r":0.012},{"c":4,"s":7,"w":600,"r":0.008},{"c":4,"s":7,"w":620,"r":0.005},{"c":4,"s":7,"w":640,"r":0.004},{"c":4,"s":7,"w":660,"r":0.003},{"c":4,"s":7,"w":680,"r":0.003},{"c":4,"s":7,"w":700,"r":0.002},{"c":4,"s":7,"w":720,"r":0.001},{"c":4,"s":7,"w":730,"r":0},
{"c":4,"s":8,"w":400,"r":0.020},{"c":4,"s":8,"w":420,"r":0.019},{"c":4,"s":8,"w":440,"r":0.020},{"c":4,"s":8,"w":460,"r":0.021},{"c":4,"s":8,"w":480,"r":0.023},{"c":4,"s":8,"w":500,"r":0.024},{"c":4,"s":8,"w":520,"r":0.024},{"c":4,"s":8,"w":540,"r":0.022},{"c":4,"s":8,"w":560,"r":0.020},{"c":4,"s":8,"w":575,"r":0.017},{"c":4,"s":8,"w":590,"r":0.011},{"c":4,"s":8,"w":600,"r":0.007},{"c":4,"s":8,"w":620,"r":0.004},{"c":4,"s":8,"w":640,"r":0.003},{"c":4,"s":8,"w":660,"r":0.003},{"c":4,"s":8,"w":680,"r":0.003},{"c":4,"s":8,"w":700,"r":0.002},{"c":4,"s":8,"w":720,"r":0.001},{"c":4,"s":8,"w":730,"r":0},
{"c":4,"s":9,"w":400,"r":0.018},{"c":4,"s":9,"w":420,"r":0.019},{"c":4,"s":9,"w":440,"r":0.021},{"c":4,"s":9,"w":460,"r":0.022},{"c":4,"s":9,"w":480,"r":0.022},{"c":4,"s":9,"w":500,"r":0.023},{"c":4,"s":9,"w":520,"r":0.022},{"c":4,"s":9,"w":540,"r":0.020},{"c":4,"s":9,"w":560,"r":0.018},{"c":4,"s":9,"w":575,"r":0.015},{"c":4,"s":9,"w":590,"r":0.010},{"c":4,"s":9,"w":600,"r":0.007},{"c":4,"s":9,"w":620,"r":0.004},{"c":4,"s":9,"w":640,"r":0.003},{"c":4,"s":9,"w":660,"r":0.002},{"c":4,"s":9,"w":680,"r":0.003},{"c":4,"s":9,"w":700,"r":0.002},{"c":4,"s":9,"w":720,"r":0.001},{"c":4,"s":9,"w":730,"r":0},
{"c":4,"s":10,"w":400,"r":0.014},{"c":4,"s":10,"w":420,"r":0.015},{"c":4,"s":10,"w":440,"r":0.017},{"c":4,"s":10,"w":460,"r":0.019},{"c":4,"s":10,"w":480,"r":0.021},{"c":4,"s":10,"w":500,"r":0.022},{"c":4,"s":10,"w":520,"r":0.021},{"c":4,"s":10,"w":540,"r":0.019},{"c":4,"s":10,"w":560,"r":0.017},{"c":4,"s":10,"w":575,"r":0.014},{"c":4,"s":10,"w":590,"r":0.009},{"c":4,"s":10,"w":600,"r":0.006},{"c":4,"s":10,"w":620,"r":0.004},{"c":4,"s":10,"w":640,"r":0.003},{"c":4,"s":10,"w":660,"r":0.002},{"c":4,"s":10,"w":680,"r":0.003},{"c":4,"s":10,"w":700,"r":0.002},{"c":4,"s":10,"w":720,"r":0.001},{"c":4,"s":10,"w":730,"r":0},
{"c":4,"s":11,"w":400,"r":0.013},{"c":4,"s":11,"w":420,"r":0.014},{"c":4,"s":11,"w":440,"r":0.015},{"c":4,"s":11,"w":460,"r":0.017},{"c":4,"s":11,"w":480,"r":0.019},{"c":4,"s":11,"w":500,"r":0.021},{"c":4,"s":11,"w":520,"r":0.020},{"c":4,"s":11,"w":540,"r":0.017},{"c":4,"s":11,"w":560,"r":0.015},{"c":4,"s":11,"w":575,"r":0.012},{"c":4,"s":11,"w":590,"r":0.008},{"c":4,"s":11,"w":600,"r":0.005},{"c":4,"s":11,"w":620,"r":0.003},{"c":4,"s":11,"w":640,"r":0.002},{"c":4,"s":11,"w":660,"r":0.002},{"c":4,"s":11,"w":680,"r":0.002},{"c":4,"s":11,"w":700,"r":0.002},{"c":4,"s":11,"w":720,"r":0.001},{"c":4,"s":11,"w":730,"r":0},
{"c":4,"s":12,"w":400,"r":0.024},{"c":4,"s":12,"w":420,"r":0.022},{"c":4,"s":12,"w":440,"r":0.020},{"c":4,"s":12,"w":460,"r":0.021},{"c":4,"s":12,"w":480,"r":0.023},{"c":4,"s":12,"w":500,"r":0.023},{"c":4,"s":12,"w":520,"r":0.020},{"c":4,"s":12,"w":540,"r":0.016},{"c":4,"s":12,"w":560,"r":0.013},{"c":4,"s":12,"w":575,"r":0.011},{"c":4,"s":12,"w":590,"r":0.008},{"c":4,"s":12,"w":600,"r":0.005},{"c":4,"s":12,"w":620,"r":0.003},{"c":4,"s":12,"w":640,"r":0.003},{"c":4,"s":12,"w":660,"r":0.002},{"c":4,"s":12,"w":680,"r":0.002},{"c":4,"s":12,"w":700,"r":0.002},{"c":4,"s":12,"w":720,"r":0},{"c":4,"s":12,"w":730,"r":0},
{"c":4,"s":13,"w":400,"r":0.026},{"c":4,"s":13,"w":420,"r":0.025},{"c":4,"s":13,"w":440,"r":0.024},{"c":4,"s":13,"w":460,"r":0.024},{"c":4,"s":13,"w":480,"r":0.025},{"c":4,"s":13,"w":500,"r":0.026},{"c":4,"s":13,"w":520,"r":0.024},{"c":4,"s":13,"w":540,"r":0.020},{"c":4,"s":13,"w":560,"r":0.017},{"c":4,"s":13,"w":575,"r":0.014},{"c":4,"s":13,"w":590,"r":0.009},{"c":4,"s":13,"w":600,"r":0.006},{"c":4,"s":13,"w":620,"r":0.004},{"c":4,"s":13,"w":640,"r":0.003},{"c":4,"s":13,"w":660,"r":0.002},{"c":4,"s":13,"w":680,"r":0.003},{"c":4,"s":13,"w":700,"r":0.002},{"c":4,"s":13,"w":720,"r":0.001},{"c":4,"s":13,"w":730,"r":0}
]},
"columns":2,
"spacing":{"column":68,"row":52},
"bounds":"flush",
"concat":[
{"title":"Cluster 1","width":187,"height":144,"transform":[{"filter":"datum.c==1"}],"mark":"line",
"encoding":{"x":{"field":"w","type":"quantitative","scale":{"domain":[400,750]},"axis":{"values":[400,500,600,700],"title":"Wavelength (nm)"}},
"y":{"field":"r","type":"quantitative","scale":{"domain":[0,0.07]},"axis":{"values":[0,0.01,0.02,0.03,0.04,0.05,0.06,0.07],"format":"~g","title":"R"}},
"detail":{"field":"s"}}},
{"title":"Cluster 2","width":183,"height":144,"transform":[{"filter":"datum.c==2"}],"mark":"line",
"encoding":{"x":{"field":"w","type":"quantitative","scale":{"domain":[400,750]},"axis":{"values":[400,500,600,700],"title":"Wavelength (nm)"}},
"y":{"field":"r","type":"quantitative","scale":{"domain":[0,0.07]},"axis":{"values":[0,0.01,0.02,0.03,0.04,0.05,0.06,0.07],"format":"~g","title":"R"}},
"detail":{"field":"s"}}},
{"title":"Cluster 3","width":187,"height":144,"transform":[{"filter":"datum.c==3"}],"mark":"line",
"encoding":{"x":{"field":"w","type":"quantitative","scale":{"domain":[400,750]},"axis":{"values":[400,500,600,700],"title":"Wavelength (nm)"}},
"y":{"field":"r","type":"quantitative","scale":{"domain":[0,0.07]},"axis":{"values":[0,0.01,0.02,0.03,0.04,0.05,0.06,0.07],"format":"~g","title":"R"}},
"detail":{"field":"s"}}},
{"title":"Cluster 4","width":183,"height":144,"transform":[{"filter":"datum.c==4"}],"mark":"line",
"encoding":{"x":{"field":"w","type":"quantitative","scale":{"domain":[400,750]},"axis":{"values":[400,500,600,700],"title":"Wavelength (nm)"}},
"y":{"field":"r","type":"quantitative","scale":{"domain":[0,0.07]},"axis":{"values":[0,0.01,0.02,0.03,0.04,0.05,0.06,0.07],"format":"~g","title":"R"}},
"detail":{"field":"s"}}}
]
}
